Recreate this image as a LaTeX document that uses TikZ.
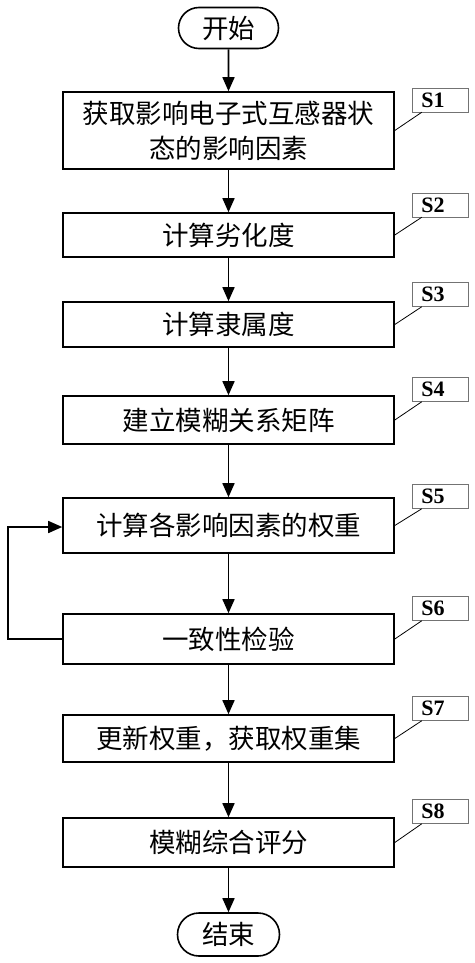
\documentclass[tikz,border=0pt]{standalone}
\usepackage{fontspec}
\setmainfont{Liberation Serif}
\newfontfamily\cjk{Noto Sans CJK SC}
\usetikzlibrary{arrows.meta,shapes.misc}
\begin{document}
\begin{tikzpicture}[x=1pt,y=-1pt,
  stepbox/.style={draw=black,line width=1.6pt,minimum width=331pt,inner sep=0pt,
     font=\cjk\fontsize{26.5}{35}\selectfont,align=center},
  term/.style={draw=black,line width=1.6pt,rounded rectangle,minimum width=100pt,minimum height=41pt,
     inner sep=0pt,font=\cjk\fontsize{26.5}{30}\selectfont},
  tag/.style={draw=black!55,line width=0.6pt,minimum width=56pt,minimum height=24pt,inner sep=0pt,
     font=\bfseries\fontsize{22}{22}\selectfont},
  flow/.style={line width=1.6pt,-{Triangle[length=14pt,width=12pt]}},
  lead/.style={line width=0.8pt}]
\useasboundingbox (0,0) rectangle (474,963);
\node[term] (start) at (228.5,28) {开始};
\node[stepbox,minimum height=77pt] (s1) at (228.5,130.5) {获取影响电子式互感器状\\态的影响因素};
\node[stepbox,minimum height=44pt] (s2) at (228.5,235) {计算劣化度};
\node[stepbox,minimum height=45pt] (s3) at (228.5,324.5) {计算隶属度};
\node[stepbox,minimum height=48pt] (s4) at (228.5,420) {建立模糊关系矩阵};
\node[stepbox,minimum height=55pt] (s5) at (228.5,525.5) {计算各影响因素的权重};
\node[stepbox,minimum height=50pt] (s6) at (228.5,639) {一致性检验};
\node[stepbox,minimum height=47pt] (s7) at (228.5,738.5) {更新权重，获取权重集};
\node[stepbox,minimum height=49pt] (s8) at (228.5,842.5) {模糊综合评分};
\node[term,minimum width=102pt,minimum height=43pt] (end) at (228.5,934.5) {结束};
\foreach \i/\y in {1/100,2/205,3/294.5,4/389.5,5/496.5,6/608.5,7/708.5,8/811.5}{
  \node[tag] (t\i) at (440,\y) {\hspace*{-14pt}S\i};
  \draw[lead] ([xshift=10pt]t\i.south west) -- (s\i.east);
}
\draw[flow] (start) -- (s1);
\draw[flow] (s1) -- (s2);
\draw[flow] (s2) -- (s3);
\draw[flow] (s3) -- (s4);
\draw[flow] (s4) -- (s5);
\draw[flow] (s5) -- (s6);
\draw[flow] (s6) -- (s7);
\draw[flow] (s7) -- (s8);
\draw[flow] (s8) -- (end);
\coordinate (lb) at (8,639);
\coordinate (lt) at (8,527);
\draw[flow] (s6.west) -- (lb) -- (lt) -- (s5.west |- lt);
\end{tikzpicture}
\end{document}
